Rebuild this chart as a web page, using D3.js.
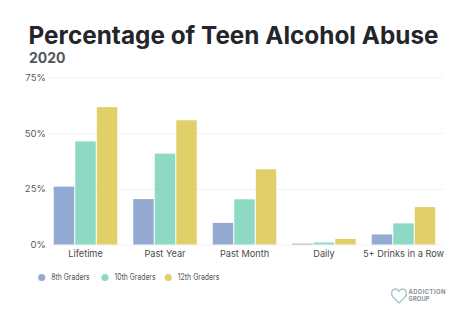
<!DOCTYPE html>
<html>
<head>
<meta charset="utf-8">
<script src="https://cdn.jsdelivr.net/npm/d3@7"></script>
<style>
  body { margin: 0; background: #fff; }
  svg { display: block; font-family: Inter, "Noto Sans", sans-serif; }
</style>
</head>
<body>
<svg id="canvas"></svg>
<script>
const categories = ["Lifetime", "Past Year", "Past Month", "Daily", "5+ Drinks in a Row"];
const seriesNames = ["8th Graders", "10th Graders", "12th Graders"];
const grade8 = [26.0, 20.4, 9.7, 0.4, 4.5];
const grade10 = [46.3, 40.8, 20.3, 0.9, 9.5];
const grade12 = [61.7, 55.8, 33.8, 2.5, 16.8];
const yTicks = [0, 25, 50, 75];
const colors = ["#94aad2", "#8ed9c4", "#e1d06a"];

function getChartConfig() {
  let canvasWidth = 474,
    canvasHeight = 324;
  let margin = { left: 45.75, right: 30.75, top: 77.5, bottom: 79.5 };
  let width = canvasWidth - margin.left - margin.right;
  let height = canvasHeight - margin.top - margin.bottom;
  let svg = d3.select("#canvas").attr("width", canvasWidth).attr("height", canvasHeight);
  return { canvasWidth, canvasHeight, margin, width, height, svg };
}

function getChartScales(config) {
  let { width, height } = config;
  let xScale = d3.scaleBand().domain(categories).range([0, width]);
  let xInner = d3.scaleBand().domain(seriesNames).range([0, 63.5]).paddingInner(0.05);
  let yScale = d3.scaleLinear().domain([0, 75]).range([height, 0]);
  let cScale = d3.scaleOrdinal().domain(seriesNames).range(colors);
  return { xScale, xInner, yScale, cScale };
}

function drawTitle(config) {
  let { svg } = config;
  svg.append("text")
    .attr("x", 28.5)
    .attr("y", 44)
    .attr("fill", "#23252b")
    .attr("textLength", 410)
    .style("font-size", "24.3px")
    .style("font-weight", 700)
    .text("Percentage of Teen Alcohol Abuse");
  svg.append("text")
    .attr("x", 29)
    .attr("y", 63)
    .attr("fill", "#55575c")
    .style("font-size", "14px")
    .style("font-weight", 700)
    .text("2020");
}

function drawAxes(scales, config) {
  let { xScale, yScale } = scales;
  let { svg, margin, width, height } = config;

  let grid = svg.append("g")
    .attr("transform", `translate(${margin.left},${margin.top})`)
    .call(d3.axisLeft(yScale).tickValues(yTicks).tickSize(-width).tickFormat(""));
  grid.select(".domain").remove();
  grid.selectAll("line").attr("stroke", "#f1f1f1").attr("x1", 4);

  let axisY = svg.append("g")
    .attr("transform", `translate(${margin.left},${margin.top})`)
    .call(d3.axisLeft(yScale).tickValues(yTicks).tickSize(0).tickFormat((d) => d + "%"));
  axisY.select(".domain").remove();
  axisY.selectAll("text")
    .attr("x", 0)
    .attr("fill", "#5a5a5a")
    .style("font-size", "9.5px")
    .style("font-family", "Inter, sans-serif");

  let axisX = svg.append("g")
    .attr("transform", `translate(${margin.left},${margin.top + height})`)
    .call(d3.axisBottom(xScale).tickSize(0));
  axisX.select(".domain").remove();
  axisX.selectAll("text")
    .attr("y", 5.5)
    .attr("fill", "#4a4a4a")
    .style("font-size", "9.2px")
    .style("font-family", "Inter, sans-serif");
}

function drawChart(scales, config) {
  let { xScale, xInner, yScale, cScale } = scales;
  let { svg, margin } = config;
  let allSeries = [grade8, grade10, grade12];
  let offset = (xScale.bandwidth() - 63.5) / 2;

  let g = svg.append("g").attr("transform", `translate(${margin.left},${margin.top})`);
  seriesNames.forEach((name, si) => {
    g.selectAll(".bar-" + si)
      .data(allSeries[si])
      .enter()
      .append("rect")
      .attr("x", (d, i) => xScale(categories[i]) + offset + xInner(name))
      .attr("y", (d) => yScale(d))
      .attr("width", xInner.bandwidth())
      .attr("height", (d) => yScale(0) - yScale(d))
      .attr("fill", cScale(name));
  });
}

function drawLegend(scales, config) {
  let { cScale } = scales;
  let { svg } = config;
  let xs = [41.7, 105, 168.3];
  let lens = [38.5, 41, 41.5];
  let legend = svg.selectAll(".legend")
    .data(seriesNames)
    .enter()
    .append("g")
    .attr("transform", (d, i) => `translate(${xs[i]},277.5)`);
  legend.append("circle").attr("r", 3.6).attr("fill", (d) => cScale(d));
  legend.append("text")
    .attr("x", 9.5)
    .attr("dy", "0.35em")
    .attr("fill", "#555")
    .attr("textLength", (d, i) => lens[i])
    .attr("lengthAdjust", "spacingAndGlyphs")
    .style("font-size", "8.4px")
    .text((d) => d);
}

function drawLogo(config) {
  let { svg } = config;
  let g = svg.append("g").attr("transform", "translate(391,288.5)");
  g.append("path")
    .attr("d", "M8,14.5 L2,8.5 C-1,5 1,0.5 4.5,0.5 C6.5,0.5 7.5,1.8 8,2.8 C8.5,1.8 9.5,0.5 11.5,0.5 C15,0.5 17,5 14,8.5 Z")
    .attr("fill", "none")
    .attr("stroke", "#a9c6cf")
    .attr("stroke-width", 1.4);
  g.append("text").attr("x", 17.5).attr("y", 5.6).attr("fill", "#8a8e93")
    .attr("textLength", 37)
    .style("font-size", "5.8px").style("font-weight", 700).text("ADDICTION");
  g.append("text").attr("x", 17.5).attr("y", 12.6).attr("fill", "#8a8e93")
    .attr("textLength", 21)
    .style("font-size", "5.8px").style("font-weight", 700).text("GROUP");
}

let config = getChartConfig();
let scales = getChartScales(config);
drawTitle(config);
drawAxes(scales, config);
drawChart(scales, config);
drawLegend(scales, config);
drawLogo(config);
</script>
</body>
</html>
